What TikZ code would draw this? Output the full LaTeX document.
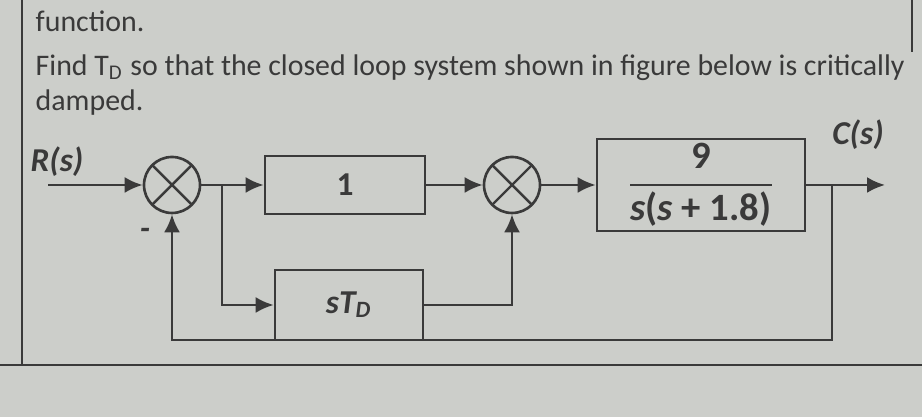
\documentclass[tikz,border=0pt]{standalone}
\usepackage{amsmath}
\usepackage{fontspec}
\setmainfont{Carlito}
\usepackage{tikz}
\usetikzlibrary{arrows.meta}
\tikzset{>={Latex[width=1.6mm,length=1.8mm]}}
\definecolor{paper}{RGB}{204,206,202}
\definecolor{ink}{RGB}{58,58,58}
\tikzset{
  block/.style={draw=ink, line width=0.75pt, minimum width=1.6cm, minimum height=0.58cm, inner sep=1pt},
  sum/.style={circle, draw=ink, line width=0.75pt, minimum size=0.56cm, inner sep=0pt,
    path picture={\draw[ink, line width=0.7pt] (path picture bounding box.north west) -- (path picture bounding box.south east)
      (path picture bounding box.north east) -- (path picture bounding box.south west);}},
  wire/.style={draw=ink, line width=0.75pt},
  lbl/.style={text=ink, font=\fontsize{9.5}{11}\selectfont\bfseries\itshape},
  page/.style={text=ink, font=\fontsize{8.5}{10}\selectfont, anchor=west, inner sep=0pt}
}

\begin{document}
\begin{tikzpicture}
    \fill[paper] (0,0) rectangle (9.22,4.17);
    \useasboundingbox (0,0) rectangle (9.22,4.17);
    % page borders
    \draw[ink, line width=0.7pt] (0.22,4.17) -- (0.22,0.52);
    \draw[ink, line width=0.7pt] (0,0.52) -- (9.22,0.52);
    \draw[ink, line width=0.7pt] (9.12,4.17) -- (9.12,3.65);
    % question text
    \node[page] (t1) at (0.35,3.96) {function.};
    \node[page] (t2) at (0.35,3.49) {Find T\textsubscript{D} so that the closed loop system shown in figure below is critically};
    \node[page] (t3) at (0.35,3.14) {damped.};
    % blocks
    \node[sum] (S1) at (1.72,2.32) {};
    \node[block] (B1) at (3.45,2.32) {\fontsize{9.5}{11}\selectfont\bfseries\color{ink}1};
    \node[sum] (S2) at (5.12,2.32) {};
    \node[block, minimum width=2.08cm, minimum height=0.92cm] (G) at (7.01,2.32)
      {\color{ink}\fontsize{11}{13}\selectfont\bfseries$\dfrac{\textbf{9}}{\textbf{\textit{s}(\textit{s} + 1.8)}}$};
    \node[block, minimum width=1.48cm, minimum height=0.7cm] (D) at (3.49,1.12)
      {\fontsize{9.5}{11}\selectfont\bfseries\itshape\color{ink}sT\textsubscript{D}};
    \node[lbl] (R) at (0.57,2.55) {R(s)};
    \node[lbl] (C) at (8.58,2.82) {C(s)};
    \node[lbl] (minus) at (1.45,1.83) {-};
    \coordinate (in) at (0.48,2.32);
    \coordinate (out) at (8.85,2.32);
    \coordinate (br) at (2.22,2.32);
    \coordinate (fb) at (8.32,2.32);
    \coordinate (fbb) at (8.32,0.77);
    % connectors
    \draw[wire,->] (in) -- (S1);
    \draw[wire,->] (S1) -- (B1);
    \draw[wire,->] (br) |- (D);
    \draw[wire,->] (B1) -- (S2);
    \draw[wire,->] (D) -| (S2);
    \draw[wire,->] (S2) -- (G);
    \draw[wire,->] (G) -- (out);
    \draw[wire,->] (fb) -- (fbb) -| (S1);
  \end{tikzpicture}
\end{document}
